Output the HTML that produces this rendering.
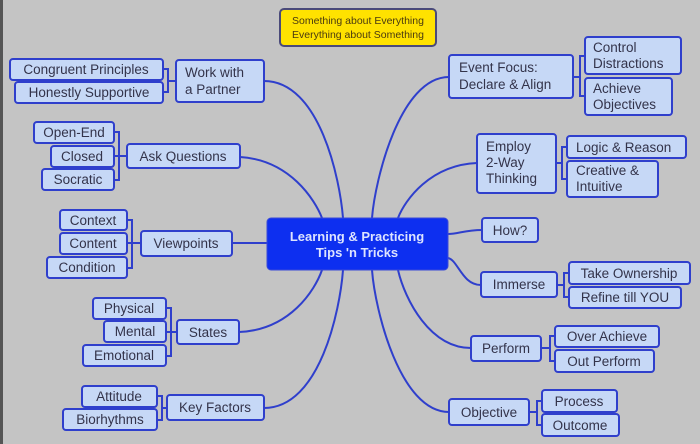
<!DOCTYPE html>
<html><head><meta charset="utf-8"><style>
html,body{margin:0;padding:0;background:#c4c4c4;}
svg{display:block;}
text{font-family:"Liberation Sans",sans-serif;font-size:13.5px;fill:#33334a;}
.b{fill:#c6d8f6;stroke:#2f3fcc;stroke-width:2;}
.l{fill:none;stroke:#2f3fcc;stroke-width:2;}
</style></head><body>
<svg width="700" height="444" viewBox="0 0 700 444">
<rect x="0" y="0" width="3" height="444" fill="#555"/>
<!-- main connectors -->
<g class="l">
<path d="M264,81 C320,81 340,180 343,218"/>
<path d="M240,157 C290,160 315,200 322,218"/>
<path d="M232,243 L267,243"/>
<path d="M239,332 C290,330 315,290 322,270"/>
<path d="M264,408 C320,408 340,310 343,270"/>
<path d="M449,77 C400,77 375,180 372,218"/>
<path d="M477,163 C430,165 405,200 398,218"/>
<path d="M482,230 C465,230 458,234 448,234"/>
<path d="M481,285 C462,285 458,260 448,258"/>
<path d="M471,348 C430,348 405,300 398,270"/>
<path d="M449,412 C400,412 375,310 372,270"/>
<!-- brackets left -->
<path d="M163,69 h5 v23 h-5 M168,81 h8"/>
<path d="M114,132 h5 v48 h-5 M114,156 h13"/>
<path d="M127,220 h5 v48 h-5 M127,243 h14"/>
<path d="M166,308 h5 v48 h-5 M166,332 h11"/>
<path d="M157,396 h5 v24 h-5 M162,408 h5"/>
<!-- brackets right -->
<path d="M585,56 h-5 v40 h5 M573,77 h7"/>
<path d="M567,147 h-5 v32 h5 M556,163 h6"/>
<path d="M569,273 h-5 v24 h5 M557,285 h7"/>
<path d="M555,336 h-5 v25 h5 M541,348 h9"/>
<path d="M542,401 h-5 v24 h5 M529,412 h8"/>
</g>
<!-- yellow -->
<rect x="280" y="9" width="156" height="37" rx="4" fill="#ffe200" stroke="#4a4a7a" stroke-width="2"/>
<text x="358" y="24" text-anchor="middle" style="font-size:10.5px;fill:#4a3a10">Something about Everything</text>
<text x="358" y="38" text-anchor="middle" style="font-size:10.5px;fill:#4a3a10">Everything about Something</text>
<!-- center -->
<rect x="267" y="218" width="181" height="52" rx="4" fill="#0d2ff0" stroke="#3a4ad8" stroke-width="1"/>
<text x="357" y="241" text-anchor="middle" style="fill:#dde4ff;font-weight:bold;font-size:13px">Learning &amp; Practicing</text>
<text x="357" y="257" text-anchor="middle" style="fill:#dde4ff;font-weight:bold;font-size:13px">Tips 'n Tricks</text>
<!-- left nodes -->
<rect class="b" x="10" y="59" width="153" height="21" rx="3"/><text x="86" y="74" text-anchor="middle">Congruent Principles</text>
<rect class="b" x="15" y="82" width="148" height="21" rx="3"/><text x="89" y="97" text-anchor="middle">Honestly Supportive</text>
<rect class="b" x="176" y="60" width="88" height="42" rx="3"/><text x="185" y="77">Work with</text><text x="185" y="94">a Partner</text>
<rect class="b" x="34" y="122" width="80" height="21" rx="3"/><text x="74" y="137" text-anchor="middle">Open-End</text>
<rect class="b" x="51" y="146" width="63" height="21" rx="3"/><text x="82" y="161" text-anchor="middle">Closed</text>
<rect class="b" x="42" y="169" width="72" height="21" rx="3"/><text x="78" y="184" text-anchor="middle">Socratic</text>
<rect class="b" x="127" y="144" width="113" height="24" rx="3"/><text x="183" y="161" text-anchor="middle">Ask Questions</text>
<rect class="b" x="60" y="210" width="67" height="20" rx="3"/><text x="93" y="225" text-anchor="middle">Context</text>
<rect class="b" x="60" y="233" width="67" height="21" rx="3"/><text x="93" y="248" text-anchor="middle">Content</text>
<rect class="b" x="47" y="257" width="80" height="21" rx="3"/><text x="87" y="272" text-anchor="middle">Condition</text>
<rect class="b" x="141" y="231" width="91" height="25" rx="3"/><text x="186" y="248" text-anchor="middle">Viewpoints</text>
<rect class="b" x="93" y="298" width="73" height="21" rx="3"/><text x="129" y="313" text-anchor="middle">Physical</text>
<rect class="b" x="104" y="321" width="62" height="21" rx="3"/><text x="135" y="336" text-anchor="middle">Mental</text>
<rect class="b" x="83" y="345" width="83" height="21" rx="3"/><text x="124" y="360" text-anchor="middle">Emotional</text>
<rect class="b" x="177" y="320" width="62" height="24" rx="3"/><text x="208" y="337" text-anchor="middle">States</text>
<rect class="b" x="82" y="386" width="75" height="21" rx="3"/><text x="119" y="401" text-anchor="middle">Attitude</text>
<rect class="b" x="63" y="409" width="94" height="21" rx="3"/><text x="110" y="424" text-anchor="middle">Biorhythms</text>
<rect class="b" x="167" y="395" width="97" height="25" rx="3"/><text x="215" y="412" text-anchor="middle">Key Factors</text>
<!-- right nodes -->
<rect class="b" x="449" y="55" width="124" height="43" rx="3"/><text x="459" y="72">Event Focus:</text><text x="459" y="89">Declare &amp; Align</text>
<rect class="b" x="585" y="37" width="96" height="37" rx="3"/><text x="593" y="52">Control</text><text x="593" y="68">Distractions</text>
<rect class="b" x="585" y="78" width="87" height="37" rx="3"/><text x="593" y="93">Achieve</text><text x="593" y="109">Objectives</text>
<rect class="b" x="477" y="134" width="79" height="59" rx="3"/><text x="486" y="151">Employ</text><text x="486" y="167">2-Way</text><text x="486" y="183">Thinking</text>
<rect class="b" x="567" y="136" width="119" height="22" rx="3"/><text x="576" y="152">Logic &amp; Reason</text>
<rect class="b" x="567" y="161" width="91" height="36" rx="3"/><text x="576" y="175">Creative &amp;</text><text x="576" y="191">Intuitive</text>
<rect class="b" x="482" y="218" width="56" height="24" rx="3"/><text x="510" y="235" text-anchor="middle">How?</text>
<rect class="b" x="481" y="272" width="76" height="25" rx="3"/><text x="519" y="289" text-anchor="middle">Immerse</text>
<rect class="b" x="569" y="262" width="121" height="22" rx="3"/><text x="629" y="278" text-anchor="middle">Take Ownership</text>
<rect class="b" x="569" y="287" width="112" height="21" rx="3"/><text x="625" y="302" text-anchor="middle">Refine till YOU</text>
<rect class="b" x="471" y="336" width="70" height="25" rx="3"/><text x="506" y="353" text-anchor="middle">Perform</text>
<rect class="b" x="555" y="326" width="104" height="21" rx="3"/><text x="607" y="341" text-anchor="middle">Over Achieve</text>
<rect class="b" x="555" y="350" width="99" height="22" rx="3"/><text x="604" y="366" text-anchor="middle">Out Perform</text>
<rect class="b" x="449" y="399" width="80" height="26" rx="3"/><text x="489" y="417" text-anchor="middle">Objective</text>
<rect class="b" x="542" y="390" width="75" height="22" rx="3"/><text x="579" y="406" text-anchor="middle">Process</text>
<rect class="b" x="542" y="414" width="77" height="22" rx="3"/><text x="580" y="430" text-anchor="middle">Outcome</text>
</svg>
</body></html>
